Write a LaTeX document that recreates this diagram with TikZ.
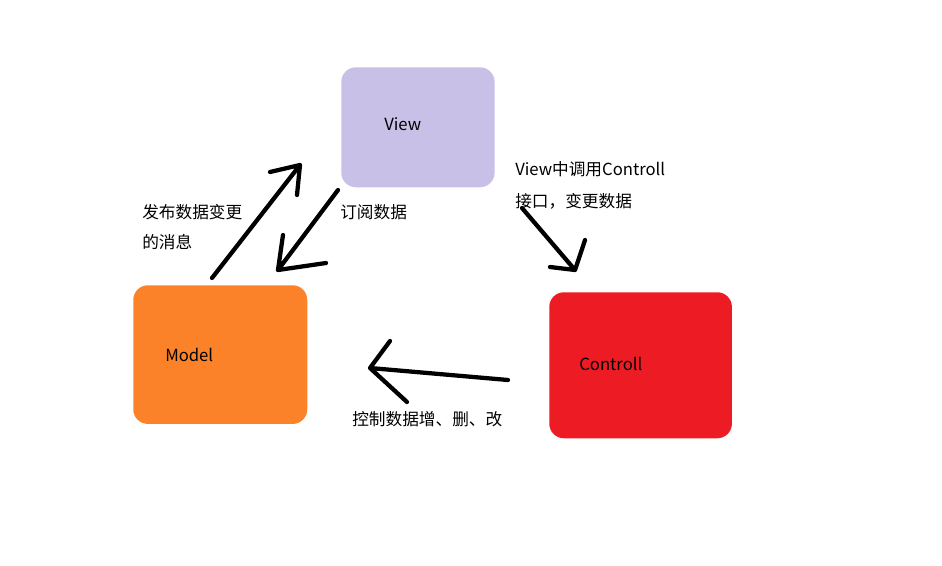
\documentclass[tikz,border=0pt]{standalone}
\usepackage{fontspec}
\setmainfont{Noto Sans CJK SC}
\begin{document}
\begin{tikzpicture}[x=0.75pt,y=-0.75pt,
  box/.style={draw=none,rounded corners=11pt,inner sep=0pt,anchor=north west},
  lbl/.style={anchor=west,font=\fontsize{12.5pt}{15pt}\selectfont,inner sep=0pt},
  stroke/.style={line width=3.2pt,line cap=round,line join=round}]
\useasboundingbox (0,0) rectangle (942,565);
\definecolor{viewc}{HTML}{C8C0E6}
\definecolor{modelc}{HTML}{FB8228}
\definecolor{ctrlc}{HTML}{ED1C24}
\node[box,fill=viewc,minimum width=115pt,minimum height=90pt] (view) at (341,67) {};
\node[box,fill=modelc,minimum width=130.5pt,minimum height=104pt] (model) at (133,285) {};
\node[box,fill=ctrlc,minimum width=137pt,minimum height=109.5pt] (ctrl) at (549,292) {};
\node[lbl] (tv) at (384,124) {View};
\node[lbl] (tm) at (165,355) {Model};
\node[lbl] (tc) at (579,364) {Controll};
\node[lbl] (l1a) at (142,212) {发布数据变更};
\node[lbl] (l1b) at (142,242) {的消息};
\node[lbl] (l2) at (340,212) {订阅数据};
\node[lbl] (l3a) at (515,169) {View中调用Controll};
\node[lbl] (l3b) at (515,201) {接口，变更数据};
\node[lbl] (l4) at (352,419) {控制数据增、删、改};
% arrow 1
\coordinate (a1s) at (212,278); \coordinate (a1e) at (300,165);
\coordinate (a1h1) at (270,172); \coordinate (a1h2) at (297,195);
\draw[stroke] (a1s) -- (a1e) (a1h1) -- (a1e) -- (a1h2);
% arrow 2
\coordinate (a2s) at (338,190); \coordinate (a2e) at (278,270);
\coordinate (a2h1) at (326,263); \coordinate (a2h2) at (283,235);
\draw[stroke] (a2s) -- (a2e) (a2h1) -- (a2e) -- (a2h2);
% arrow 3
\coordinate (a3s) at (522,208); \coordinate (a3e) at (575,270);
\coordinate (a3h1) at (550,267); \coordinate (a3h2) at (585,240);
\draw[stroke] (a3s) -- (a3e) (a3h1) -- (a3e) -- (a3h2);
% arrow 4
\coordinate (a4s) at (508,380); \coordinate (a4e) at (370,368);
\coordinate (a4h1) at (390,341); \coordinate (a4h2) at (407,402);
\draw[stroke] (a4s) -- (a4e) (a4h1) -- (a4e) -- (a4h2);
\end{tikzpicture}
\end{document}
